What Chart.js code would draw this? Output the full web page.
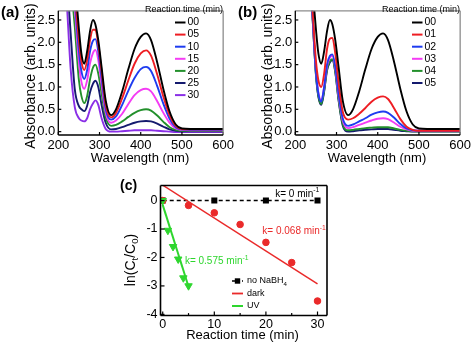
<!DOCTYPE html>
<html>
<head>
<meta charset="utf-8">
<script src="https://cdn.jsdelivr.net/npm/chart.js@4.4.1/dist/chart.umd.min.js"></script>
<style>
  html, body { margin: 0; padding: 0; background: #fff; }
  #fig { position: relative; width: 474px; height: 346px; overflow: hidden;
         font-family: "Liberation Sans", Arial, sans-serif; background: #fff; }
  .box { position: absolute; }
  .tag { position: absolute; font-weight: bold; line-height: 1; color: #000; }
</style>
</head>
<body>
<div id="fig">
  <div class="box" style="left:0;top:0;width:237px;height:175px"><canvas id="ca" width="237" height="175"></canvas></div>
  <div class="box" style="left:237px;top:0;width:237px;height:175px"><canvas id="cb" width="237" height="175"></canvas></div>
  <div class="box" style="left:100px;top:175px;width:260px;height:171px"><canvas id="cc" width="260" height="171"></canvas></div>
  <div class="tag" style="left:1px;top:4px;font-size:15px">(a)</div>
  <div class="tag" style="left:238px;top:4px;font-size:15px">(b)</div>
  <div class="tag" style="left:120px;top:178px;font-size:14px">(c)</div>
</div>
<script>
// ---- UV-vis spectra: wavelength grid (nm) ----
const wavelengths = [210, 220, 230, 240, 250, 256, 263, 270, 277, 284, 290, 297, 305, 315, 328,
                     340, 355, 370, 385, 400, 413, 425, 440, 455, 470, 485, 500, 520, 550, 600];

// reaction time 00 (shared by both spectra panels)
const abs00  = [5, 5, 4.6, 3.4, 2.3, 1.75, 1.52, 1.8, 2.25, 2.5, 2.4, 2.05, 1.45, 0.7, 0.37,
                0.5, 0.9, 1.4, 1.85, 2.12, 2.2, 2.05, 1.55, 0.95, 0.45, 0.16, 0.07, 0.06, 0.06, 0.06];

// panel (a): dark reaction
const timesA = ['00', '05', '10', '15', '20', '25', '30'];
const absA05 = [5, 5, 4.3, 3.1, 2.05, 1.58, 1.38, 1.6, 2.05, 2.28, 2.28, 1.95, 1.35, 0.6, 0.32,
                0.42, 0.75, 1.15, 1.52, 1.75, 1.82, 1.7, 1.28, 0.78, 0.37, 0.13, 0.06, 0.05, 0.05, 0.05];
const absA10 = [5, 4.9, 4.0, 2.95, 1.8, 1.36, 1.18, 1.38, 1.8, 2.03, 2.07, 1.8, 1.2, 0.5, 0.27,
                0.34, 0.6, 0.92, 1.2, 1.4, 1.45, 1.36, 1.02, 0.62, 0.29, 0.1, 0.05, 0.04, 0.04, 0.04];
const absA15 = [5, 4.7, 3.7, 2.75, 1.55, 1.12, 0.96, 1.15, 1.53, 1.76, 1.83, 1.6, 1.05, 0.42, 0.2,
                0.25, 0.4, 0.62, 0.82, 0.93, 0.96, 0.9, 0.68, 0.42, 0.2, 0.07, 0.04, 0.03, 0.03, 0.03];
const absA20 = [5, 4.4, 3.4, 2.35, 1.15, 0.8, 0.64, 0.8, 1.17, 1.43, 1.5, 1.3, 0.85, 0.32, 0.13,
                0.15, 0.23, 0.33, 0.42, 0.48, 0.5, 0.47, 0.36, 0.22, 0.1, 0.04, 0.02, 0.02, 0.02, 0.02];
const absA25 = [5, 3.6, 2.2, 0.95, 0.57, 0.5, 0.46, 0.58, 0.88, 1.07, 1.14, 1.0, 0.6, 0.2, 0.05,
                0.06, 0.1, 0.15, 0.2, 0.23, 0.24, 0.23, 0.18, 0.11, 0.05, 0.02, 0.01, 0.01, 0.01, 0.01];
const absA30 = [4.0, 2.95, 1.4, 0.55, 0.3, 0.25, 0.23, 0.3, 0.5, 0.63, 0.7, 0.6, 0.3, 0.06, 0.0,
                0.0, 0.01, 0.02, 0.03, 0.03, 0.03, 0.03, 0.02, 0.01, 0.0, -0.01, -0.01, -0.01, -0.01, -0.01];

// panel (b): UV-assisted reaction
const timesB = ['00', '01', '02', '03', '04', '05'];
const absB01 = [5, 5, 4.3, 3.0, 1.6, 1.15, 1.0, 1.3, 1.85, 2.08, 2.1, 1.75, 1.1, 0.45, 0.27,
                0.3, 0.4, 0.53, 0.67, 0.76, 0.79, 0.73, 0.52, 0.28, 0.11, 0.04, 0.02, 0.02, 0.02, 0.02];
const absB02 = [5, 5, 4.2, 2.9, 1.35, 0.85, 0.67, 1.0, 1.5, 1.7, 1.73, 1.45, 0.85, 0.3, 0.13,
                0.16, 0.23, 0.3, 0.38, 0.43, 0.45, 0.42, 0.31, 0.17, 0.07, 0.03, 0.02, 0.02, 0.02, 0.02];
const absB03 = [5, 5, 4.2, 2.9, 1.37, 0.88, 0.7, 1.0, 1.47, 1.66, 1.7, 1.42, 0.8, 0.25, 0.08,
                0.1, 0.15, 0.2, 0.25, 0.29, 0.3, 0.28, 0.2, 0.11, 0.05, 0.02, 0.02, 0.02, 0.02, 0.02];
const absB04 = [5, 5, 4.2, 2.85, 1.3, 0.8, 0.62, 0.93, 1.4, 1.58, 1.62, 1.35, 0.72, 0.17, 0.03,
                0.04, 0.06, 0.08, 0.09, 0.1, 0.1, 0.1, 0.07, 0.04, 0.02, 0.01, 0.01, 0.01, 0.01, 0.01];
const absB05 = [5, 5, 4.2, 2.85, 1.28, 0.78, 0.6, 0.9, 1.37, 1.55, 1.6, 1.33, 0.7, 0.14, 0.0,
                0.01, 0.03, 0.04, 0.05, 0.06, 0.06, 0.06, 0.04, 0.02, 0.01, 0.0, 0.0, 0.0, 0.0, 0.0];

// ---- panel (c): kinetics, ln(Ct/C0) vs reaction time (min) ----
const ctrlTimes = [0, 10, 20, 30];
const ctrlLn    = [0, 0, 0, 0];
const darkTimes = [0, 5, 10, 15, 20, 25, 30];
const darkLn    = [0, -0.17, -0.43, -0.84, -1.47, -2.18, -3.53];
const darkFitT  = [0, 30];
const darkFitLn = [0.54, -2.93];
const uvTimes   = [0, 1, 2, 3, 4, 5];
const uvLn      = [0, -1.05, -1.62, -2.06, -2.72, -3.0];
const uvFitT    = [0, 5.1];
const uvFitLn   = [-0.15, -3.08];

const FONT = '"Liberation Sans", Arial, sans-serif';
const COL_A = ['#000000', '#ee1d23', '#1e3cf0', '#f43cf4', '#23902c', '#141a6e', '#8a2fe6'];
const COL_B = ['#000000', '#ee1d23', '#1e3cf0', '#f43cf4', '#23902c', '#141a6e'];
const RED = '#ea2a2a';
const GREEN = '#2ed62e';

Chart.defaults.font.family = FONT;
Chart.defaults.color = '#000';

// text with optional sub/superscript pieces: [text, 0 normal | 1 sub | 2 sup]
function drawRich(ctx, segs, x, y, size, color, align, rot) {
  ctx.save();
  ctx.translate(x, y);
  if (rot) ctx.rotate(rot);
  ctx.fillStyle = color;
  ctx.textBaseline = 'middle';
  ctx.textAlign = 'left';
  let w = 0;
  const parts = segs.map(([t, k]) => {
    const fs = k ? size * 0.68 : size;
    ctx.font = fs + 'px ' + FONT;
    const pw = ctx.measureText(t).width;
    w += pw;
    return { t, k, fs, pw };
  });
  let cx = align === 'center' ? -w / 2 : (align === 'right' ? -w : 0);
  parts.forEach(p => {
    ctx.font = p.fs + 'px ' + FONT;
    const dy = p.k === 1 ? size * 0.32 : (p.k === 2 ? -size * 0.36 : 0);
    ctx.fillText(p.t, cx, dy);
    cx += p.pw;
  });
  ctx.restore();
}

// frame, inward tick marks, axis titles, legend and notes
const panelDecor = {
  id: 'panelDecor',
  afterDraw(chart, args, o) {
    const { ctx, chartArea: a, scales } = chart;
    const xs = scales.x, ys = scales.y;
    ctx.save();
    // inward ticks
    ctx.strokeStyle = '#000';
    ctx.lineWidth = 1.2;
    const xv = xs.ticks.map(t => t.value);
    xv.forEach(v => {
      const px = xs.getPixelForValue(v);
      ctx.beginPath(); ctx.moveTo(px, a.bottom); ctx.lineTo(px, a.bottom - o.tickLen); ctx.stroke();
    });
    if (o.minorX) {
      for (let i = 0; i + 1 < xv.length; i++) {
        const px = xs.getPixelForValue((xv[i] + xv[i + 1]) / 2);
        ctx.beginPath(); ctx.moveTo(px, a.bottom); ctx.lineTo(px, a.bottom - o.tickLen * 0.6); ctx.stroke();
      }
    }
    ys.ticks.forEach(t => {
      const py = ys.getPixelForValue(t.value);
      ctx.beginPath(); ctx.moveTo(a.left, py); ctx.lineTo(a.left + o.tickLen, py); ctx.stroke();
    });
    // frame
    const f = o.frame;
    ctx.lineWidth = f.width;
    const seg = (c, x1, y1, x2, y2) => { ctx.strokeStyle = c; ctx.beginPath(); ctx.moveTo(x1, y1); ctx.lineTo(x2, y2); ctx.stroke(); };
    seg(f.top, a.left, a.top, a.right, a.top);
    seg(f.right, a.right, a.top, a.right, a.bottom);
    seg(f.left, a.left, a.top, a.left, a.bottom);
    seg(f.bottom, a.left, a.bottom, a.right, a.bottom);
    // axis titles
    drawRich(ctx, o.yTitle.segs, o.yTitle.x, o.yTitle.y, o.yTitle.size, '#000', 'center', -Math.PI / 2);
    drawRich(ctx, o.xTitle.segs, o.xTitle.x, o.xTitle.y, o.xTitle.size, '#000', 'center', 0);
    // legend
    const L = o.legend;
    if (L.title) drawRich(ctx, [[L.title, 0]], L.titleX, L.titleY, L.titleSize, '#000', 'right', 0);
    L.items.forEach((it, i) => {
      const y = L.y0 + i * L.dy[Math.min(i, L.dy.length - 1)] + (L.offsets ? L.offsets[i] : 0);
      ctx.strokeStyle = it.color;
      ctx.lineWidth = it.width || 2;
      ctx.setLineDash(it.dash || []);
      ctx.beginPath(); ctx.moveTo(L.x0, y); ctx.lineTo(L.x1, y); ctx.stroke();
      ctx.setLineDash([]);
      if (it.marker === 'rect') {
        ctx.fillStyle = it.color;
        const mx = (L.x0 + L.x1) / 2;
        ctx.fillRect(mx - 2.7, y - 2.7, 5.4, 5.4);
      }
      drawRich(ctx, it.segs, L.textX, y, L.size, '#000', 'left', 0);
    });
    // notes placed in data coordinates
    (o.notes || []).forEach(n => {
      drawRich(ctx, n.segs, xs.getPixelForValue(n.x), ys.getPixelForValue(n.y), n.size, n.color, 'left', 0);
    });
    ctx.restore();
  }
};

function spectrumChart(id, labels, series, colors) {
  return new Chart(document.getElementById(id), {
    type: 'line',
    data: {
      datasets: series.map((vals, i) => ({
        label: labels[i],
        data: wavelengths.map((w, k) => ({ x: w, y: vals[k] })),
        borderColor: colors[i],
        borderWidth: 1.9,
        pointRadius: 0,
        cubicInterpolationMode: 'monotone',
        fill: false
      }))
    },
    options: {
      responsive: false,
      animation: false,
      events: [],
      layout: { padding: { top: 5, right: 12.7, left: 0, bottom: 0 } },
      scales: {
        x: {
          type: 'linear', min: 200, max: 600,
          afterFit: s => { s.height = 40; },
          grid: { display: false, drawTicks: false },
          border: { display: false },
          ticks: { stepSize: 100, font: { size: 13 }, padding: 3, maxRotation: 0, autoSkip: false,
                   includeBounds: false, callback: v => String(v) }
        },
        y: {
          type: 'linear', min: -0.075, max: 2.705,
          afterFit: s => { s.width = 58.3; },
          grid: { display: false, drawTicks: false },
          border: { display: false },
          ticks: { stepSize: 0.5, font: { size: 13 }, padding: 3, autoSkip: false,
                   includeBounds: false, callback: v => v.toFixed(1) }
        }
      },
      plugins: {
        legend: { display: false },
        tooltip: { enabled: false },
        panelDecor: {
          tickLen: 3,
          frame: { left: '#000', bottom: '#000', top: '#8c8c8c', right: '#8c8c8c', width: 1.3 },
          yTitle: { segs: [['Absorbance (arb. units)', 0]], x: 31, y: 76, size: 14 },
          xTitle: { segs: [['Wavelength (nm)', 0]], x: 140, y: 158, size: 13 },
          legend: {
            title: 'Reaction time (min)', titleX: 223, titleY: 10, titleSize: 9,
            x0: 175, x1: 185.5, textX: 187.5, y0: 22.5, dy: [12.1], size: 10.5,
            items: labels.map((l, i) => ({ segs: [[l, 0]], color: colors[i], width: 2 }))
          }
        }
      }
    },
    plugins: [panelDecor]
  });
}

spectrumChart('ca', timesA, [abs00, absA05, absA10, absA15, absA20, absA25, absA30], COL_A);
spectrumChart('cb', timesB, [abs00, absB01, absB02, absB03, absB04, absB05], COL_B);

const zip = (xs, ys) => xs.map((x, i) => ({ x, y: ys[i] }));

new Chart(document.getElementById('cc'), {
  type: 'line',
  data: {
    datasets: [
      { label: 'UV', data: zip(uvTimes, uvLn), showLine: false, pointStyle: 'triangle', pointRotation: 180,
        pointRadius: 4.3, pointBackgroundColor: GREEN, pointBorderColor: GREEN, borderColor: GREEN },
      { label: 'UV fit', data: zip(uvFitT, uvFitLn), borderColor: GREEN, borderWidth: 2, pointRadius: 0 },
      { label: 'dark', data: zip(darkTimes, darkLn), showLine: false, pointStyle: 'circle',
        pointRadius: 3.3, pointBackgroundColor: RED, pointBorderColor: RED, borderColor: RED },
      { label: 'dark fit', data: zip(darkFitT, darkFitLn), borderColor: RED, borderWidth: 1.5, pointRadius: 0 },
      { label: 'no NaBH4', data: zip(ctrlTimes, ctrlLn), borderColor: '#000', borderWidth: 1.5,
        borderDash: [4, 3], pointStyle: 'rect', pointRadius: 3.2,
        pointBackgroundColor: '#000', pointBorderColor: '#000' }
    ]
  },
  options: {
    responsive: false,
    animation: false,
    events: [],
    layout: { padding: { top: 8, right: 33, left: 0, bottom: 0 } },
    scales: {
      x: {
        type: 'linear', min: -0.43, max: 31.84,
        afterFit: s => { s.height = 30.5; },
        grid: { display: false, drawTicks: false },
        border: { display: false },
        ticks: { stepSize: 10, font: { size: 12.5 }, padding: 2, maxRotation: 0, autoSkip: false,
                 includeBounds: false, callback: v => String(v) }
      },
      y: {
        type: 'linear', min: -4.04, max: 0.53,
        afterFit: s => { s.width = 60.5; },
        grid: { display: false, drawTicks: false },
        border: { display: false },
        ticks: { stepSize: 1, font: { size: 12.5 }, padding: 3, autoSkip: false,
                 includeBounds: false, callback: v => String(v) }
      }
    },
    plugins: {
      legend: { display: false },
      tooltip: { enabled: false },
      panelDecor: {
        tickLen: 4, minorX: true,
        frame: { left: '#000', bottom: '#000', top: '#000', right: '#000', width: 1.6 },
        yTitle: { segs: [['ln(C', 0], ['t', 1], ['/C', 0], ['0', 1], [')', 0]], x: 31, y: 85, size: 14 },
        xTitle: { segs: [['Reaction time (min)', 0]], x: 142.5, y: 160, size: 13 },
        legend: {
          title: null,
          x0: 132, x1: 143, textX: 147, y0: 106, dy: [14, 12.5], size: 9,
          items: [
            { segs: [['no NaBH', 0], ['4', 1]], color: '#000', width: 1.5, dash: [3, 2], marker: 'rect' },
            { segs: [['dark', 0]], color: RED, width: 1.8 },
            { segs: [['UV', 0]], color: GREEN, width: 2 }
          ]
        },
        notes: [
          { segs: [['k= 0 min', 0], ['-1', 2]], x: 21.8, y: 0.23, size: 10, color: '#000' },
          { segs: [['k= 0.068 min', 0], ['-1', 2]], x: 19.3, y: -1.09, size: 10, color: RED },
          { segs: [['k= 0.575 min', 0], ['-1', 2]], x: 4.3, y: -2.15, size: 10, color: GREEN }
        ]
      }
    }
  },
  plugins: [panelDecor]
});
</script>
</body>
</html>
